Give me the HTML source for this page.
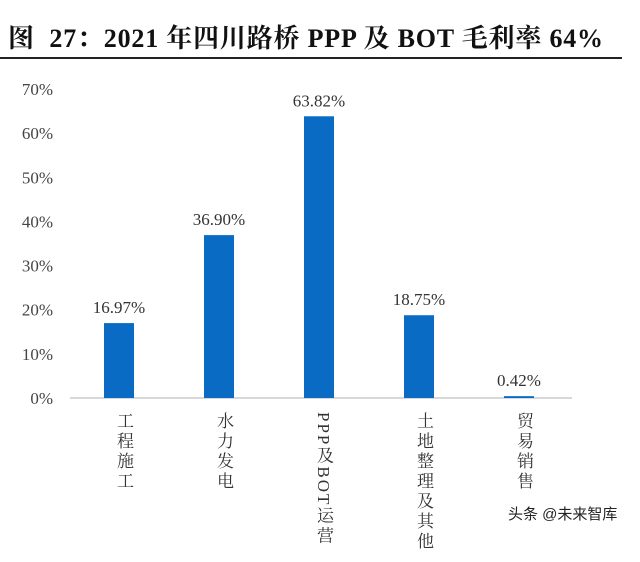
<!DOCTYPE html>
<html><head><meta charset="utf-8"><style>
body{margin:0;background:#fff;}
#wrap{position:relative;width:640px;height:562px;overflow:hidden;background:#fff;font-family:"Liberation Serif","Noto Serif CJK SC",serif;}
.title{position:absolute;left:8px;top:22px;font-size:26px;font-weight:bold;color:#111;white-space:nowrap;letter-spacing:0.8px;line-height:34px;}
.rule{position:absolute;left:0;top:57px;width:622px;height:2px;background:#222;}
.cat{position:absolute;top:412px;writing-mode:vertical-rl;text-orientation:mixed;font-size:17px;color:#333;line-height:18px;letter-spacing:3px;}
.cat span{letter-spacing:2px;}
.wm{position:absolute;left:508px;top:503px;font-family:"Liberation Sans","Noto Sans CJK SC",sans-serif;font-size:15px;color:#222;}
</style></head><body>
<div id="wrap">
<div class="title">图&nbsp; 27：2021 年四川路桥 PPP 及 BOT 毛利率 64%</div>
<div class="rule"></div>
<svg id="chart" width="640" height="562" style="position:absolute;left:0;top:0"></svg>
<div id="cats"></div>
<div class="wm">头条 @未来智库</div>
</div>
<script>
const categories=["工程施工","水力发电","PPP及BOT运营","土地整理及其他","贸易销售"];
const values=[16.97,36.90,63.82,18.75,0.42];
const valueLabels=["16.97%","36.90%","63.82%","18.75%","0.42%"];
const ticks=[0,10,20,30,40,50,60,70];
const tickLabels=["0%","10%","20%","30%","40%","50%","60%","70%"];
const NS="http://www.w3.org/2000/svg";
const svg=document.getElementById('chart');
const y0=398,y70=89,x0=70,x1=572;
const y=v=>y0-(v/70)*(y0-y70);
const xc=i=>119+i*100;
function mk(t,a){const e=document.createElementNS(NS,t);for(const k in a)e.setAttribute(k,a[k]);svg.appendChild(e);return e;}
ticks.forEach((t,i)=>{
 const e=mk('text',{x:53,y:y(t)+6,'text-anchor':'end','font-size':17,fill:'#444','font-family':'Liberation Serif, serif'});
 e.textContent=tickLabels[i];
 
 
});
const ax=mk('line',{x1:x0,x2:x1,y1:y0,y2:y0,stroke:'#c8ccd0','stroke-width':1.5});


values.forEach((v,i)=>{
 const r=mk('rect',{x:xc(i)-15,y:y(v),width:30,height:y0-y(v),fill:'#0a6bc4'});
 
 
 const t=mk('text',{x:xc(i),y:y(v)-10,'text-anchor':'middle','font-size':17,fill:'#333','font-family':'Liberation Serif, serif'});
 t.textContent=valueLabels[i];
 
 
});
const cd=document.getElementById('cats');
categories.forEach((c,i)=>{
 const d=document.createElement('div');
 d.className='cat';
 d.innerHTML=c.replace(/([A-Za-z]+)/g,'<span>$1</span>');
 d.style.left=(xc(i)+4-9)+'px';
 
 
 cd.appendChild(d);
});
</script>
</body></html>
